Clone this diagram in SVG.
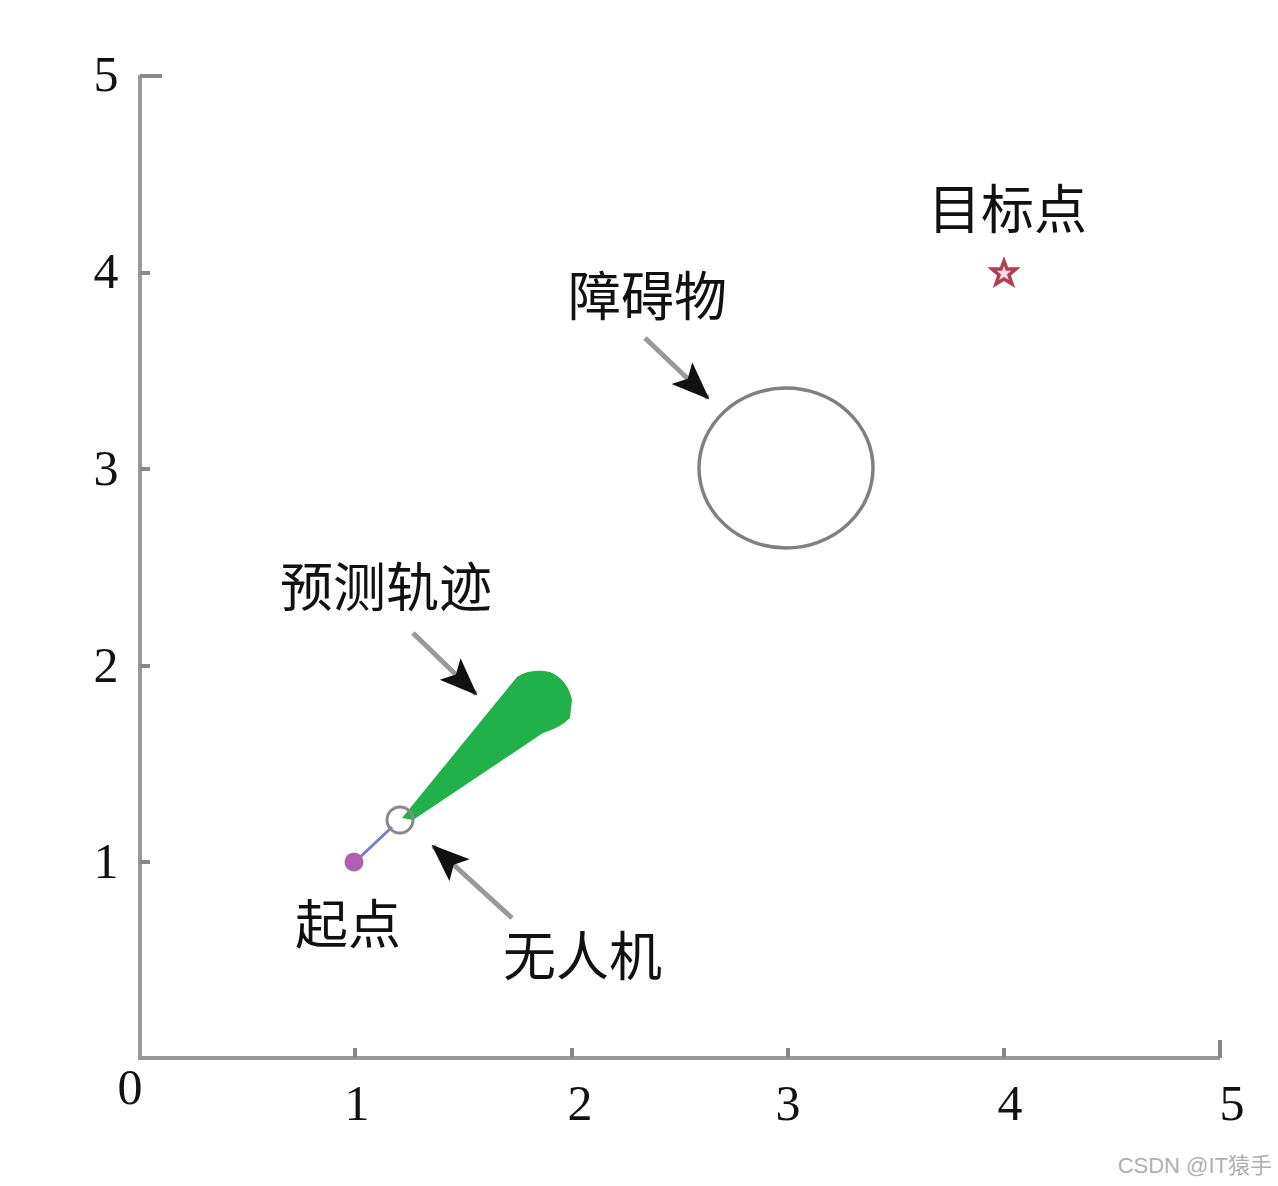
<svg xmlns="http://www.w3.org/2000/svg" width="1278" height="1186" viewBox="0 0 1278 1186">
<defs>
<marker id="ah" markerUnits="userSpaceOnUse" markerWidth="40" markerHeight="40" viewBox="0 0 40 40" refX="36" refY="20" orient="auto">
<path d="M0,5 L38,20 L0,35 L8,20 Z" fill="#111"/>
</marker>
</defs>
<style>
.axis{stroke:#999;stroke-width:4;fill:none}
.tick{stroke:#888;stroke-width:4}
.num{font-family:"Liberation Serif","Times New Roman",serif;font-size:50px;fill:#111}
.cn{font-family:"Liberation Serif","Noto Sans CJK SC",serif;font-size:53px;fill:#111}
.arr{stroke:#999;stroke-width:5;fill:none}
</style>
<rect width="1278" height="1186" fill="#fff"/>
<g id="axes">
<path class="axis" d="M140,75 L140,1058 L1220,1058"/>
<line class="tick" x1="140" y1="76" x2="162" y2="76"/>
<line class="tick" x1="140" y1="273" x2="150" y2="273"/>
<line class="tick" x1="140" y1="469" x2="150" y2="469"/>
<line class="tick" x1="140" y1="666" x2="150" y2="666"/>
<line class="tick" x1="140" y1="862" x2="150" y2="862"/>
<line class="tick" x1="355" y1="1058" x2="355" y2="1048"/>
<line class="tick" x1="572" y1="1058" x2="572" y2="1048"/>
<line class="tick" x1="788" y1="1058" x2="788" y2="1048"/>
<line class="tick" x1="1004" y1="1058" x2="1004" y2="1048"/>
<line class="tick" x1="1220" y1="1058" x2="1220" y2="1040"/>
<text class="num" x="106" y="91" text-anchor="middle">5</text>
<text class="num" x="106" y="288" text-anchor="middle">4</text>
<text class="num" x="106" y="485" text-anchor="middle">3</text>
<text class="num" x="106" y="682" text-anchor="middle">2</text>
<text class="num" x="106" y="878" text-anchor="middle">1</text>
<text class="num" x="130" y="1104" text-anchor="middle">0</text>
<text class="num" x="357" y="1120" text-anchor="middle">1</text>
<text class="num" x="580" y="1120" text-anchor="middle">2</text>
<text class="num" x="788" y="1120" text-anchor="middle">3</text>
<text class="num" x="1010" y="1120" text-anchor="middle">4</text>
<text class="num" x="1232" y="1120" text-anchor="middle">5</text>
</g>
<g id="obstacle">
<ellipse cx="786" cy="468" rx="87" ry="80" fill="none" stroke="#808080" stroke-width="3.5"/>
</g>
<g id="target">
<polygon points="1004,261 1007,269 1016,269 1009,275 1012,284 1004,279 996,284 999,275 992,269 1001,269" fill="#f4dde0" stroke="#b04050" stroke-width="3.5"/>
</g>
<g id="trajectory">
<path d="M402,818 L517,677 Q530,668 550,672 Q568,680 572,700 L570,718 Q560,728 543,733 L413,820 Z" fill="#22b04a"/>
</g>
<g id="path-line">
<line x1="356" y1="861" x2="392" y2="827" stroke="#7080c0" stroke-width="3"/>
</g>
<g id="start">
<circle cx="354" cy="862" r="9.5" fill="#b060b0"/>
</g>
<g id="drone">
<circle cx="400" cy="820" r="13" fill="none" stroke="#888" stroke-width="3"/>
</g>
<g id="connectors">
<line class="arr" x1="645" y1="338" x2="708" y2="398" marker-end="url(#ah)"/>
<line class="arr" x1="413" y1="633" x2="476" y2="694" marker-end="url(#ah)"/>
<line class="arr" x1="512" y1="918" x2="433" y2="846" marker-end="url(#ah)"/>
</g>
<g id="labels">
<text class="cn" x="928" y="229">目标点</text>
<text class="cn" x="568" y="316">障碍物</text>
<text class="cn" x="280" y="607">预测轨迹</text>
<text class="cn" x="295" y="944">起点</text>
<text class="cn" x="503" y="976">无人机</text>
</g>
<text x="1272" y="1173" text-anchor="end" font-family="Liberation Sans,Noto Sans CJK SC,sans-serif" font-size="22" fill="#b0b0b0">CSDN @IT猿手</text>
</svg>
